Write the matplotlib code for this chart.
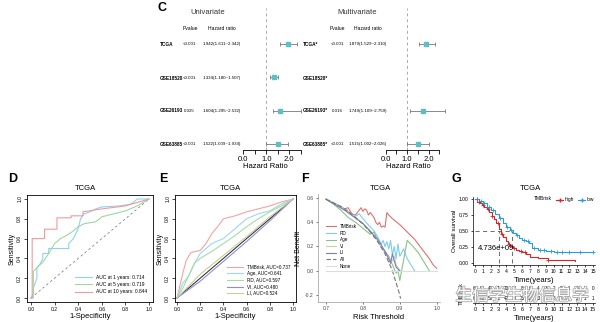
import numpy as np
import matplotlib
matplotlib.use("Agg")
import matplotlib.pyplot as plt
import matplotlib.patheffects as pe
from matplotlib.lines import Line2D

plt.rcParams['font.family'] = ['Liberation Sans', 'DejaVu Sans']

W, H = 600, 322

# ---- data: forest plots (panel C)
cohorts = ["TCGA", "GSE18520", "GSE26193", "GSE63885"]
uni_p = ["<0.001", "<0.001", "0.025", "<0.001"]
uni_hr = [1.942, 1.334, 1.604, 1.522]
uni_lo = [1.611, 1.180, 1.295, 1.009]
uni_hi = [2.342, 1.507, 2.532, 1.934]
multi_labels = ["TCGA*", "GSE18520*", "GSE26193*", "GSE63885*"]
multi_p = ["<0.001", "", "0.016", "<0.001"]
multi_hr = [1.879, np.nan, 1.749, 1.515]
multi_lo = [1.529, np.nan, 1.109, 1.002]
multi_hi = [2.310, np.nan, 2.759, 2.026]

# ---- data: time ROC (panel D)
roc1_fpr = [0, 0.02, 0.02, 0.05, 0.05, 0.08, 0.1, 0.1, 0.15, 0.15, 0.22, 0.32, 0.32, 0.36, 0.38, 0.4, 0.42, 0.45, 0.5, 0.55, 0.6, 0.75, 0.85, 0.9, 1.0]
roc1_tpr = [0, 0, 0.1, 0.2, 0.3, 0.35, 0.4, 0.45, 0.45, 0.5, 0.5, 0.5, 0.55, 0.6, 0.65, 0.7, 0.8, 0.85, 0.87, 0.9, 0.92, 0.93, 0.95, 1.0, 1.0]
roc5_fpr = [0, 0.02, 0.02, 0.06, 0.1, 0.15, 0.2, 0.25, 0.3, 0.35, 0.4, 0.45, 0.55, 0.6, 0.7, 0.8, 0.9, 1.0]
roc5_tpr = [0, 0.05, 0.27, 0.32, 0.36, 0.45, 0.55, 0.6, 0.63, 0.67, 0.72, 0.75, 0.77, 0.82, 0.85, 0.88, 0.93, 1.0]
roc10_fpr = [0, 0.01, 0.01, 0.115, 0.115, 0.22, 0.22, 0.34, 0.34, 0.44, 0.44, 0.6, 0.8, 1.0]
roc10_tpr = [0, 0, 0.6, 0.6, 0.695, 0.695, 0.81, 0.81, 0.83, 0.83, 0.87, 0.9, 0.93, 1.0]
auc_d = [0.714, 0.719, 0.844]

# ---- data: ROC by variable (panel E)
e_names = ["TMBrisk", "Age", "RD", "VI", "LI"]
e_auc = [0.737, 0.641, 0.597, 0.480, 0.524]
e_fpr = [
    [0, 0.02, 0.05, 0.08, 0.12, 0.2, 0.25, 0.3, 0.35, 0.4, 0.5, 0.6, 0.7, 0.8, 0.9, 1.0],
    [0, 0.05, 0.1, 0.15, 0.2, 0.3, 0.4, 0.5, 0.6, 0.7, 0.8, 0.9, 1.0],
    [0, 0.05, 0.1, 0.15, 0.2, 0.3, 0.4, 0.5, 0.6, 0.7, 0.8, 0.9, 1.0],
    [0, 0.2, 0.4, 0.6, 0.8, 1.0],
    [0, 0.2, 0.4, 0.6, 0.8, 1.0],
]
e_tpr = [
    [0, 0.1, 0.25, 0.38, 0.46, 0.48, 0.55, 0.65, 0.72, 0.8, 0.83, 0.87, 0.9, 0.93, 0.97, 1.0],
    [0, 0.15, 0.22, 0.35, 0.45, 0.55, 0.6, 0.7, 0.8, 0.85, 0.88, 0.95, 1.0],
    [0, 0.1, 0.22, 0.35, 0.4, 0.47, 0.55, 0.63, 0.72, 0.8, 0.87, 0.93, 1.0],
    [0, 0.17, 0.37, 0.57, 0.78, 1.0],
    [0, 0.24, 0.43, 0.62, 0.82, 1.0],
]

# ---- data: decision curve (panel F)
dca_names = ["TMBrisk", "RD", "Age", "VI", "LI", "All", "None"]
dca_x = [
    [0.70, 0.72, 0.74, 0.75, 0.76, 0.77, 0.78, 0.79, 0.795, 0.80, 0.805, 0.81, 0.815, 0.82, 0.83, 0.835, 0.84, 0.845, 0.85, 0.855, 0.86, 0.865, 0.87, 0.88, 0.90, 0.92, 0.94, 0.96, 0.98, 0.99, 1.0],
    [0.70, 0.74, 0.76, 0.78, 0.79, 0.80, 0.82, 0.83, 0.84, 0.85, 0.855, 0.86, 0.865, 0.87, 0.875, 0.88, 0.885, 0.89, 0.895, 0.90, 0.91, 0.92, 0.93, 0.94],
    [0.70, 0.72, 0.74, 0.76, 0.78, 0.80, 0.82, 0.83, 0.84, 0.85, 0.86, 0.87, 0.88, 0.89, 0.895, 0.90, 0.905, 0.92, 0.93, 0.95, 0.97, 0.98],
    [0.70, 0.75, 0.80, 0.82, 0.84, 0.86, 0.87, 0.88, 0.885, 0.89, 0.90],
    [0.70, 0.75, 0.80, 0.84, 0.86, 0.87, 0.875, 0.88, 0.885, 0.89, 0.90],
    [0.70, 0.72, 0.74, 0.76, 0.78, 0.80, 0.82, 0.84, 0.86, 0.88, 0.90, 0.902],
    [0.70, 1.0],
]
dca_y = [
    [0.59, 0.56, 0.53, 0.51, 0.52, 0.47, 0.46, 0.50, 0.52, 0.49, 0.51, 0.50, 0.46, 0.48, 0.44, 0.40, 0.38, 0.40, 0.36, 0.37, 0.36, 0.48, 0.46, 0.43, 0.38, 0.32, 0.26, 0.18, 0.10, 0.05, 0.02],
    [0.59, 0.53, 0.49, 0.45, 0.47, 0.43, 0.36, 0.33, 0.28, 0.22, 0.25, 0.20, 0.24, 0.18, 0.25, 0.13, 0.20, 0.10, 0.22, 0.12, 0.18, 0.10, 0.05, 0.0],
    [0.59, 0.55, 0.50, 0.44, 0.40, 0.35, 0.30, 0.32, 0.25, 0.20, 0.16, 0.12, 0.05, -0.02, 0.0, -0.08, 0.0, 0.25, 0.22, 0.15, 0.05, 0.0],
    [0.59, 0.51, 0.39, 0.33, 0.25, 0.15, 0.10, 0.08, 0.12, 0.05, 0.0],
    [0.59, 0.50, 0.39, 0.26, 0.16, 0.10, 0.06, 0.14, 0.08, 0.03, 0.0],
    [0.59, 0.56, 0.53, 0.49, 0.44, 0.385, 0.32, 0.24, 0.14, 0.0, -0.2, -0.23],
    [0.0, 0.0],
]
dca_colors = ["#e07070", "#80cdea", "#88c488", "#cfcf95", "#7b7bc8", "#777777", "#dddddd"]

# ---- data: Kaplan-Meier (panel G)
high_t = [0, 0.3, 0.6, 0.9, 1.2, 1.5, 1.8, 2.1, 2.4, 2.7, 3.0, 3.3, 3.6, 3.9, 4.2, 4.5, 4.8, 5.2, 5.6, 6.0, 6.5, 7.0, 8.0, 9.3, 12.7]
high_s = [1, 0.96, 0.93, 0.90, 0.87, 0.84, 0.79, 0.74, 0.68, 0.62, 0.53, 0.46, 0.40, 0.34, 0.30, 0.26, 0.23, 0.21, 0.19, 0.17, 0.14, 0.10, 0.08, 0.05, 0.03]
low_t = [0, 0.5, 1, 1.5, 2, 2.5, 3, 3.5, 4, 4.5, 4.8, 5.2, 5.6, 6, 6.5, 6.9, 7.3, 8, 9, 10, 15]
low_s = [1, 0.97, 0.93, 0.88, 0.83, 0.77, 0.70, 0.63, 0.57, 0.52, 0.47, 0.43, 0.39, 0.36, 0.34, 0.31, 0.24, 0.21, 0.19, 0.17, 0.17]
high_cens_t = [0.2, 0.5, 1.0, 1.6, 2.2, 2.9, 3.4, 4.3, 5.0, 5.8, 6.3, 9.3]
low_cens_t = [0.3, 0.7, 1.2, 1.8, 2.3, 3.2, 4.1, 4.6, 5.4, 6.2, 6.7, 7.5, 8.2, 8.8, 9.6, 10.4, 11.0, 12.0, 13.3, 15.0]
median_high, median_low = 3.0, 4.7
km_text = "4.736e+09"
years = list(range(16))
risk_high = [64, 55, 43, 31, 20, 12, 8, 6, 4, 3, 2, 2, 1, 0, 0, 0]
risk_low = [65, 63, 58, 51, 42, 33, 25, 18, 13, 11, 8, 6, 4, 2, 1, 1]


def box(x0, y0, x1, y1):
    return [x0 / W, 1 - y1 / H, (x1 - x0) / W, (y1 - y0) / H]


def ftext(x, y, s, **kw):
    kw.setdefault("ha", "center")
    kw.setdefault("va", "center")
    return fig.text(x / W, 1 - y / H, s, **kw)


fig = plt.figure(figsize=(6, 3.22), dpi=100)

# ================= C : forest plots
row_px = [44, 78, 111, 144]
teal = "#5bbfc6"


def forest(x0, x1, zero_px, unit_px, hr, lo, hi):
    ax = fig.add_axes(box(x0, 8, x1, 150))
    ax.set_xlim((x0 - zero_px) / unit_px, (x1 - zero_px) / unit_px)
    # rows: first row at 44px, spacing 33.3px
    ax.set_ylim((150 - 44) / 33.3, (8 - 44) / 33.3)
    ax.axvline(1, color="#aaaaaa", lw=0.7, ls=(0, (3, 3)))
    hr = np.array(hr); lo = np.array(lo); hi = np.array(hi)
    rows = np.arange(len(hr))
    ax.errorbar(hr, rows, xerr=[hr - lo, hi - hr], fmt="s", color=teal, ms=3.2,
                ecolor="#777777", elinewidth=0.6, capsize=1.2, capthick=0.6)
    for s in ["top", "right", "left"]:
        ax.spines[s].set_visible(False)
    ax.spines["bottom"].set_bounds(0, 2.5)
    ax.spines["bottom"].set_linewidth(0.6)
    ax.set_yticks([])
    ax.set_xticks([0, 0.5, 1, 1.5, 2, 2.5])
    ax.set_xticklabels(["0.0", "", "1.0", "", "2.0", ""])
    ax.tick_params(axis="x", labelsize=5.5, length=3, width=0.6, pad=1.5)
    ax.patch.set_alpha(0)
    return ax


forest(238, 310, 243.3, 22.96, uni_hr, uni_lo, uni_hi)
forest(380, 450, 385.7, 21.5, multi_hr, multi_lo, multi_hi)
ftext(265, 167, "Hazard Ratio", fontsize=5.5)
ftext(408, 167, "Hazard Ratio", fontsize=5.5)

ftext(157, 8, "C", fontsize=9, fontweight="bold", ha="left")
ftext(208, 12, "Univariate", fontsize=5.5, color="#333333")
ftext(357, 12, "Multivariate", fontsize=5.5, color="#333333")
ftext(190, 29, "Pvalue", fontsize=3.6)
ftext(222, 29, "Hazard ratio", fontsize=3.6)
ftext(337, 29, "Pvalue", fontsize=3.6)
ftext(368, 29, "Hazard ratio", fontsize=3.6)
for i, y in enumerate(row_px):
    ftext(160, y, cohorts[i], fontsize=3.4, fontweight="bold", ha="left")
    ftext(189, y, uni_p[i], fontsize=3.2)
    ftext(222, y, "%.3f(%.3f~%.3f)" % (uni_hr[i], uni_lo[i], uni_hi[i]), fontsize=3.2)
    ftext(303, y, multi_labels[i], fontsize=3.4, fontweight="bold", ha="left")
    if multi_p[i]:
        ftext(337, y, multi_p[i], fontsize=3.2)
        ftext(368, y, "%.3f(%.3f~%.3f)" % (multi_hr[i], multi_lo[i], multi_hi[i]), fontsize=3.2)


def roc_axes(x0, x1, zx, ux):
    ax = fig.add_axes(box(x0, 195, x1, 302))
    ax.set_xlim((x0 - zx) / ux, (x1 - zx) / ux)
    ax.set_ylim((298 - 302) / 99, (298 - 195) / 99)
    ticks = [0, 0.2, 0.4, 0.6, 0.8, 1.0]
    ax.set_xticks(ticks)
    ax.set_yticks(ticks)
    ax.set_xticklabels(["%.1f" % t for t in ticks])
    ax.set_yticklabels(["%.1f" % t for t in ticks], rotation=90, va="center")
    ax.tick_params(labelsize=3.6, length=2, width=0.5, pad=1.5)
    for s in ax.spines.values():
        s.set_linewidth(0.6)
    ax.set_xlabel("1-Specificity", fontsize=5.5, labelpad=1)
    ax.set_ylabel("Sensitivity", fontsize=5, labelpad=1)
    return ax


# ================= D
axd = roc_axes(27, 153, 31, 118)
axd.plot([0, 1], [0, 1], color="#888888", lw=0.6, ls=(0, (3, 3)))
axd.plot(roc1_fpr, roc1_tpr, color="#8dd3f0", lw=0.8, label="AUC at 1 years: %.3f" % auc_d[0])
axd.plot(roc5_fpr, roc5_tpr, color="#9ed89e", lw=0.8, label="AUC at 5 years: %.3f" % auc_d[1])
axd.plot(roc10_fpr, roc10_tpr, color="#f29a9a", lw=0.8, label="AUC at 10 years: %.3f" % auc_d[2])
axd.legend(loc="lower right", fontsize=3.5, frameon=False, handlelength=3.5, labelspacing=0.5,
           bbox_to_anchor=(0.99, 0.03))
ftext(85, 188, "TCGA", fontsize=5.5)
ftext(8, 179, "D", fontsize=9, fontweight="bold", ha="left")

# ================= E
axe = roc_axes(175, 296, 177, 116)
axe.plot([0, 1], [0, 1], color="#222222", lw=0.7)
e_colors = ["#f4a3a3", "#9ad8f0", "#a6dca6", "#8c8fd6", "#cbcb96"]
for i in range(len(e_names)):
    axe.plot(e_fpr[i], e_tpr[i], color=e_colors[i], lw=0.8,
             label="%s, AUC=%.3f" % (e_names[i], e_auc[i]))
axe.legend(loc="lower right", fontsize=3.3, frameon=False, handlelength=3.5, labelspacing=0.35,
           bbox_to_anchor=(0.99, 0.02))
ftext(230, 188, "TCGA", fontsize=5.5)
ftext(159, 179, "E", fontsize=9, fontweight="bold", ha="left")

# ================= F
axf = fig.add_axes(box(318, 194, 440, 302))
axf.set_xlim(0.7 - 8 / 369, 1.0 + 3.3 / 369)
axf.set_ylim(-0.2 - 7 / 121, 0.6 + 4 / 121)
for i, name in enumerate(dca_names):
    ls = (0, (4, 2)) if name == "All" else "-"
    axf.plot(dca_x[i], dca_y[i], color=dca_colors[i], lw=0.8, ls=ls, label=name)
for s in ["top", "right"]:
    axf.spines[s].set_visible(False)
for s in ["left", "bottom"]:
    axf.spines[s].set_color("#999999")
    axf.spines[s].set_linewidth(0.5)
axf.set_xticks([0.7, 0.8, 0.9, 1.0])
axf.set_xticklabels(["0.7", "0.8", "0.9", "1.0"])
axf.set_yticks([-0.2, 0.0, 0.2, 0.4, 0.6])
axf.set_yticklabels(["-0.2", "0.0", "0.2", "0.4", "0.6"])
axf.tick_params(labelsize=3.6, length=1.5, width=0.5, pad=1.5, colors="#444444")
axf.set_xlabel("Risk Threshold", fontsize=5.5, labelpad=2)
axf.set_ylabel("Net Benefit", fontsize=5, labelpad=2)
axf.legend(loc="upper left", bbox_to_anchor=(0.03, 0.76), fontsize=3.3, frameon=False,
           handlelength=2.2, labelspacing=0.35)
ftext(380, 188, "TCGA", fontsize=5.5)
ftext(301, 179, "F", fontsize=9, fontweight="bold", ha="left")

# ================= G
red, blue = "#d7262b", "#2a9dd8"
axg = fig.add_axes(box(473, 197, 595, 265))
axg.set_xlim(-2 / 7.87, 15 + 2 / 7.87)
axg.set_ylim(-2 / 64, 1 + 2 / 64)
axg.step(high_t, high_s, where="post", color=red, lw=0.8)
axg.step(low_t, low_s, where="post", color=blue, lw=0.8)
ht = np.array(high_t); hs = np.array(high_s)
lt = np.array(low_t); ls_ = np.array(low_s)
hc = [hs[np.searchsorted(ht, t, side="right") - 1] for t in high_cens_t]
lc = [ls_[np.searchsorted(lt, t, side="right") - 1] for t in low_cens_t]
axg.plot(high_cens_t, hc, "+", color=red, ms=2.5, mew=0.6)
axg.plot(low_cens_t, lc, "+", color=blue, ms=2.5, mew=0.6)
axg.plot([0, median_low], [0.5, 0.5], color="#555555", lw=0.6, ls=(0, (5, 4)))
axg.plot([median_high, median_high], [0, 0.5], color="#555555", lw=0.6, ls=(0, (5, 4)))
axg.plot([median_low, median_low], [0, 0.5], color="#555555", lw=0.6, ls=(0, (5, 4)))
axg.text(0.4, 0.22, km_text, fontsize=5.5, va="center", ha="left")
for s in ["top", "right"]:
    axg.spines[s].set_visible(False)
for s in ["left", "bottom"]:
    axg.spines[s].set_linewidth(0.5)
axg.set_xticks(years)
axg.set_yticks([0, 0.25, 0.5, 0.75, 1.0])
axg.set_yticklabels(["0.00", "0.25", "0.50", "0.75", "1.00"])
axg.tick_params(labelsize=3.6, length=1.5, width=0.5, pad=1.5)
axg.set_xlabel("Time(years)", fontsize=5.5, labelpad=2)
axg.set_ylabel("Overall survival", fontsize=4.5, labelpad=1)
handles = [Line2D([], [], color=red, marker="+", ms=2.5, lw=0.8),
           Line2D([], [], color=blue, marker="+", ms=2.5, lw=0.8)]
axg.legend(handles, ["high", "low"], ncol=2, loc="upper right", bbox_to_anchor=(1.03, 1.06),
           fontsize=3.5, frameon=False, handlelength=1.5, columnspacing=0.8, handletextpad=0.3)
ftext(543, 199, "TMBrisk", fontsize=3.5)
ftext(530, 188, "TCGA", fontsize=5.5)
ftext(451, 179, "G", fontsize=9, fontweight="bold", ha="left")

# risk table
axr = fig.add_axes(box(473, 284, 595, 303))
axr.set_xlim(-2 / 7.87, 15 + 2 / 7.87)
axr.set_ylim(-0.5, 1.5)
for k, yr in enumerate(years):
    axr.text(yr, 1, str(risk_high[k]), fontsize=3.3, ha="center", va="center")
    axr.text(yr, 0, str(risk_low[k]), fontsize=3.3, ha="center", va="center")
for s in ["top", "right", "left"]:
    axr.spines[s].set_visible(False)
axr.spines["bottom"].set_linewidth(0.5)
axr.set_xticks(years)
axr.set_yticks([0, 1])
axr.set_yticklabels(["—", "—"])
for lab, c in zip(axr.get_yticklabels(), [blue, red]):
    lab.set_color(c)
axr.tick_params(labelsize=4, length=1.5, width=0.5, pad=1.5)
axr.tick_params(axis="y", length=0)
axr.set_xlabel("Time(years)", fontsize=5.5, labelpad=2)
axr.set_ylabel("TMBrisk", fontsize=4.5, labelpad=1)

# watermark (hollow grey characters over the risk table)
wm = ftext(522, 296, "生信学生物信息学", fontsize=12, color="white",
           family=["Noto Sans CJK SC", "DejaVu Sans"], zorder=10)
wm.set_path_effects([pe.Stroke(linewidth=1.2, foreground="#a8a8a8"), pe.Normal()])

fig.savefig("out.png", dpi=100)
